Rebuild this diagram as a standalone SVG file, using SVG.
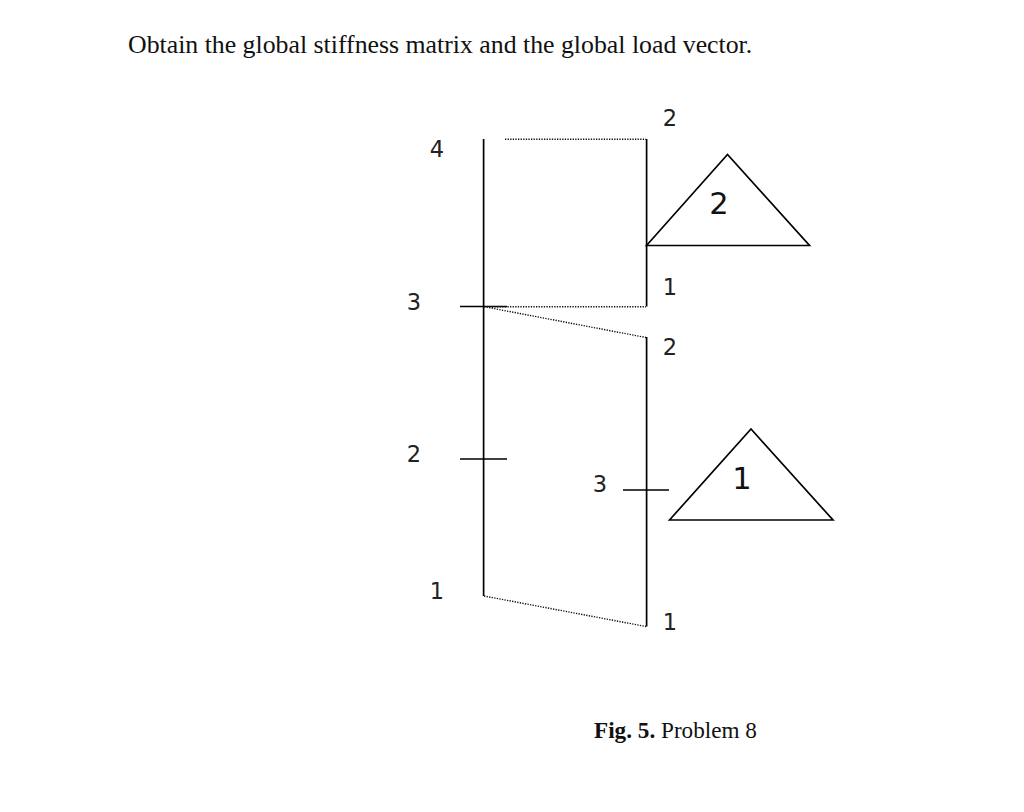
<svg xmlns="http://www.w3.org/2000/svg" width="1024" height="812" viewBox="0 0 1024 812">
<style>
.l{stroke:#000;stroke-width:1.7;fill:none}
.d{stroke:#111;stroke-width:1.4;stroke-dasharray:1.3 1.3;fill:none}
.t{stroke:#000;stroke-width:1.7;fill:#fff}
.n{font-family:"DejaVu Sans",sans-serif;font-size:22.5px;fill:#222;text-anchor:middle}
.b{font-family:"DejaVu Sans",sans-serif;font-size:30.5px;fill:#111;text-anchor:middle}
.s{font-family:"Liberation Serif",serif;fill:#111}
</style>
<rect width="1024" height="812" fill="#fff"/>
<text class="s" x="128" y="53" font-size="25.8">Obtain the global stiffness matrix and the global load vector.</text>
<g id="connectors">
<path class="l" d="M483.6 139V596M646.6 139V306.5M646.6 337V626.5M460 306.5H507M460 459H507M623 490H669"/>
<path class="d" d="M505 139.2H646M484 306.7H646M484 306.7L646 337.5M484 596L646 626.5"/>
</g>
<g id="tri2"><path class="t" d="M646.5 245.5L727.5 154.5L809.5 245.5Z"/><text class="b" x="719" y="214">2</text></g>
<g id="tri1"><path class="t" d="M669.5 520L751 429L833 520Z"/><text class="b" x="742" y="489">1</text></g>
<g id="labels">
<text class="n" x="437" y="157">4</text><text class="n" x="414" y="310">3</text><text class="n" x="414" y="462">2</text><text class="n" x="437" y="599">1</text>
<text class="n" x="670" y="126">2</text><text class="n" x="670" y="295">1</text><text class="n" x="670" y="355">2</text><text class="n" x="600" y="492">3</text><text class="n" x="670" y="630">1</text>
</g>
<text class="s" x="594" y="738" font-size="23.2"><tspan font-weight="bold">Fig. 5.</tspan> Problem 8</text>
</svg>
